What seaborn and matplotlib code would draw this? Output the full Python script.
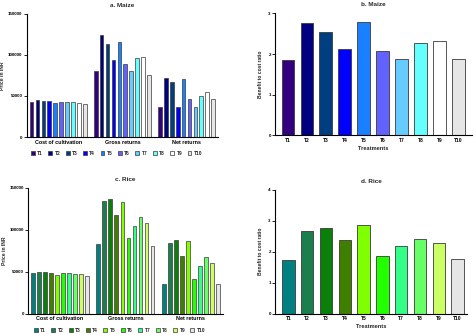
import matplotlib
matplotlib.use("Agg")
import matplotlib.pyplot as plt
import seaborn as sns
import pandas as pd

treatments = ["T1", "T2", "T3", "T4", "T5", "T6", "T7", "T8", "T9", "T10"]
items = ["Cost of cultivation", "Gross returns", "Net returns"]

maize_cost = [43000, 44600, 44200, 43400, 41400, 42600, 42200, 42200, 41400, 39700]
maize_gross = [80300, 124100, 113500, 93700, 116000, 89200, 80300, 95700, 96900, 75000]
maize_net = [36900, 72200, 66500, 36100, 71000, 46600, 36900, 50300, 55200, 46200]
maize_bcr = [1.86, 2.77, 2.55, 2.13, 2.78, 2.07, 1.88, 2.27, 2.32, 1.88]

rice_cost = [48400, 49600, 49200, 48800, 46400, 48000, 48000, 47200, 46800, 44800]
rice_gross = [83300, 133700, 136900, 117900, 132900, 90100, 104800, 114700, 107500, 80600]
rice_net = [35300, 83700, 87300, 69000, 86500, 41700, 56700, 67500, 60700, 35700]
rice_bcr = [1.72, 2.67, 2.76, 2.39, 2.85, 1.87, 2.18, 2.42, 2.28, 1.77]

maize_colors = ["#33007f", "#000080", "#003f7f", "#0000ff", "#1a80ff",
                "#6262ff", "#66ccff", "#66ffff", "#ffffff", "#e6e6e6"]
rice_colors = ["#008080", "#1a7f4c", "#0a7f0a", "#3f7f00", "#80ff00",
               "#22ff00", "#33ff88", "#66ff66", "#ccff66", "#e6e6e6"]

sns.set_theme(style="ticks")
plt.rcParams["font.family"] = ["Liberation Sans", "DejaVu Sans"]
plt.rcParams["font.weight"] = "bold"
plt.rcParams["axes.labelweight"] = "bold"
plt.rcParams["axes.titleweight"] = "bold"


def long_df(cost, gross, net):
    rows = []
    for it, vals in zip(items, [cost, gross, net]):
        for t, v in zip(treatments, vals):
            rows.append({"Item": it, "Treatment": t, "Value": v})
    return pd.DataFrame(rows)


def style_axis(ax):
    sns.despine(ax=ax)
    for s in ["left", "bottom"]:
        ax.spines[s].set_linewidth(0.8)
        ax.spines[s].set_color("black")
    ax.tick_params(axis="y", length=2, width=0.6, labelsize=3.2, pad=1, colors="black")
    ax.tick_params(axis="x", length=0, labelsize=3.9, pad=2, colors="black")
    for lab in ax.get_xticklabels() + ax.get_yticklabels():
        lab.set_fontweight("bold")


fig = plt.figure(figsize=(4.74, 3.35), dpi=100)
ax_a = fig.add_axes([0.0563, 0.591, 0.4036, 0.368])
ax_b = fig.add_axes([0.580, 0.596, 0.415, 0.364])
ax_c = fig.add_axes([0.059, 0.0636, 0.411, 0.376])
ax_d = fig.add_axes([0.580, 0.0636, 0.405, 0.370])


def grouped(ax, df, colors, title):
    sns.barplot(data=df, x="Item", y="Value", hue="Treatment", palette=colors,
                saturation=1, width=0.92, gap=0.38, edgecolor="#3a3a3a",
                linewidth=0.5, ax=ax)
    ax.set_ylim(0, 150000)
    ax.set_yticks([0, 50000, 100000, 150000])
    ax.set_xlim(-0.49, 2.49)
    ax.set_xlabel("")
    ax.set_ylabel("Price in INR", fontsize=3.6, labelpad=2)
    ax.set_title(title, fontsize=4.6, pad=5)
    style_axis(ax)
    sns.move_legend(ax, "upper center", bbox_to_anchor=(0.47, -0.095), ncol=10,
                    frameon=False, title=None, fontsize=3.5, handlelength=0.8,
                    handleheight=0.8, columnspacing=1.1, handletextpad=0.5,
                    borderaxespad=0)
    for txt in ax.get_legend().get_texts():
        txt.set_fontweight("bold")


def bcr(ax, vals, colors, title, ymax, xlim):
    sns.barplot(x=treatments, y=vals, hue=treatments, palette=colors, legend=False,
                saturation=1, width=0.66, edgecolor="#3a3a3a", linewidth=0.6, ax=ax)
    ax.set_ylim(0, ymax)
    ax.set_yticks(range(ymax + 1))
    ax.set_xlim(*xlim)
    ax.set_xlabel("Treatments", fontsize=4.1, labelpad=2)
    ax.set_ylabel("Benefit to cost ratio", fontsize=3.6, labelpad=4)
    ax.set_title(title, fontsize=4.6, pad=5)
    style_axis(ax)
    ax.tick_params(axis="x", labelsize=3.6)


grouped(ax_a, long_df(maize_cost, maize_gross, maize_net), maize_colors, "a. Maize")
bcr(ax_b, maize_bcr, maize_colors, "b. Maize", 3, (-0.68, 9.7))
grouped(ax_c, long_df(rice_cost, rice_gross, rice_net), rice_colors, "c. Rice")
bcr(ax_d, rice_bcr, rice_colors, "d. Rice", 4, (-0.72, 9.5))

fig.savefig("out.png", dpi=100, facecolor="white")
